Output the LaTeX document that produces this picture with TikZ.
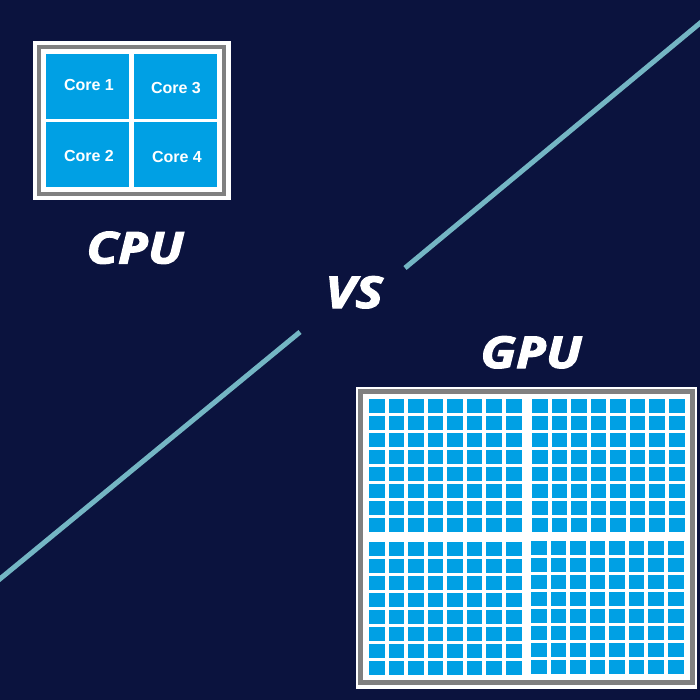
\documentclass[tikz,border=0pt]{standalone}
\usepackage{fontspec}
\setmainfont{Liberation Sans}
\newfontfamily\titlefont[FakeBold=2.5]{Open Sans}
\definecolor{bgnavy}{RGB}{11,19,62}
\definecolor{linecol}{RGB}{116,182,196}
\definecolor{coreblue}{RGB}{0,160,228}
\definecolor{chipgray}{RGB}{128,128,128}
\tikzset{
  titletxt/.style={text=white, font=\titlefont\bfseries\itshape\fontsize{44}{44}\selectfont, anchor=base, inner sep=0pt, xscale=1.17},
  coretxt/.style={text=white, font=\bfseries\fontsize{16}{16}\selectfont, anchor=base, inner sep=0pt},
  divline/.style={draw=linecol, line width=5pt},
  cell/.style={fill=coreblue},
}
\begin{document}
\begin{tikzpicture}[x=1pt,y=-1pt]
\useasboundingbox (0,0) rectangle (700,700);
\fill[bgnavy] (0,0) rectangle (700,700);
% diagonal divider
\coordinate (l1) at (-5,583);
\coordinate (l2) at (300,332);
\coordinate (u1) at (405,268);
\coordinate (u2) at (705,19);
\draw[divline] (l1) -- (l2);
\draw[divline] (u1) -- (u2);
% CPU chip
\fill[white] (33,41) rectangle (231,200);
\fill[chipgray] (37,45) rectangle (226,196);
\fill[white] (41,49) rectangle (222,192);
\fill[cell] (46,54) rectangle (129,119);
\fill[cell] (134,54) rectangle (217,119);
\fill[cell] (46,122) rectangle (129,187);
\fill[cell] (134,122) rectangle (217,187);
\node[coretxt] (c1) at (89,90.5) {Core 1};
\node[coretxt] (c3) at (176,94) {Core 3};
\node[coretxt] (c2) at (89,161.3) {Core 2};
\node[coretxt] (c4) at (177,162.3) {Core 4};
% titles
\node[titletxt] (cpu) at (135,263.5) {CPU};
\node[titletxt] (vs) at (354,308) {VS};
\node[titletxt] (gpu) at (531,368) {GPU};
% GPU chip
\fill[white] (356,387) rectangle (697,689);
\fill[chipgray] (358,389) rectangle (695,685);
\fill[white] (363,394) rectangle (690,680);
\foreach \bx/\by in {369/399, 532/399, 369/542, 531/541}{
  \foreach \i in {0,...,7}{
    \foreach \j in {0,...,7}{
      \fill[cell] ({\bx+19.57*\i},{\by+17*\j}) rectangle ++(15.5,14);
    }
  }
}
\end{tikzpicture}
\end{document}
